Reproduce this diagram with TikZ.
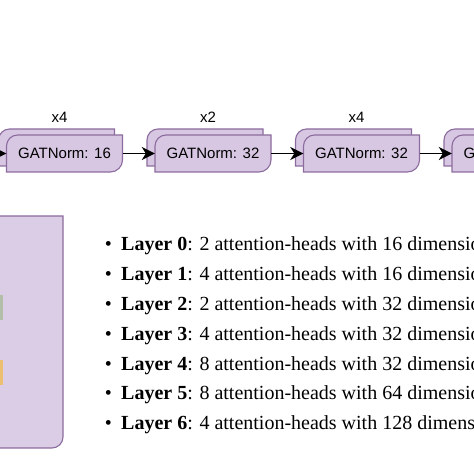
\documentclass[tikz,border=0pt]{standalone}
\usepackage{fontspec}
\setmainfont{Liberation Serif}
\newfontfamily\boxfont{Liberation Sans}
\usetikzlibrary{arrows.meta,positioning}
\definecolor{lilas}{RGB}{215,199,226}
\definecolor{lilasdark}{RGB}{140,108,158}
\definecolor{sage}{RGB}{178,190,168}
\definecolor{ocre}{RGB}{236,192,112}

\tikzset{
  gatnode/.style={minimum width=116pt, minimum height=37pt, inner sep=0pt, font=\boxfont\fontsize{15}{17}\selectfont},
  flow/.style={line width=1.8pt, -{Stealth[length=13pt,width=13pt,inset=4pt]}},
  layerline/.style={anchor=base west, inner sep=0pt, font=\fontsize{20}{23}\selectfont}
}

% one stacked GATNorm box: name, centre x, text, count
\newcommand{\gatbox}[4]{
  \draw [lilasdark, fill=lilas, line width=1.1pt] ({#2-66},308) -- ({#2-66},334) arc[start angle=180,end angle=90,radius=11pt] -- ({#2+50},345) -- ({#2+50},320) arc[start angle=0,end angle=-90,radius=12pt] -- cycle;
  \draw [lilasdark, fill=lilas, line width=1.1pt] ({#2-58},302) -- ({#2-58},328) arc[start angle=180,end angle=90,radius=11pt] -- ({#2+58},339) -- ({#2+58},314) arc[start angle=0,end angle=-90,radius=12pt] -- cycle;
  \node [gatnode] (#1) at (#2,320.5) {#3};
  \node [font=\boxfont\fontsize{15}{17}\selectfont] at ({#2-5},357) {#4};
}

\begin{document}
\begin{tikzpicture}[x=1pt,y=1pt]
\useasboundingbox (0,0) rectangle (474,474);
\clip (0,0) rectangle (474,474);

% GATNorm chain
\gatbox{g1}{64.5}{GATNorm: 16}{x4}
\gatbox{g2}{213}{GATNorm: 32}{x2}
\gatbox{g3}{361.5}{GATNorm: 32}{x4}
\gatbox{g4}{510}{GATNorm: 32}{}
\coordinate (in) at (-26,320.5);
\draw [flow] (in) -- (g1);
\draw [flow] (g1) -- (g2);
\draw [flow] (g2) -- (g3);
\draw [flow] (g3) -- (g4);

% left panel
\draw [lilasdark, fill=lilas!90!white, line width=1.1pt] (-20,26) -- (-20,258) -- (63,258) -- (63,37) arc[start angle=0,end angle=-90,radius=11pt] -- cycle;
\fill [sage] (-20,154) rectangle (3,179);
\fill [ocre] (-20,89) rectangle (3,114);

% layer list
\foreach \n/\h/\d in {0/2/16,1/4/16,2/2/32,3/4/32,4/8/32,5/8/64,6/4/128}{
  \node [anchor=base east, inner sep=0pt, font=\fontsize{20}{23}\selectfont] (b\n) at (112,{223-29.8*\n}) {\textbullet};
  \node [layerline] (layer\n) at (121,{223-29.8*\n}) {\textbf{Layer \n}: \h{} attention-heads with \d{} dimensions};
}

\end{tikzpicture}
\end{document}
